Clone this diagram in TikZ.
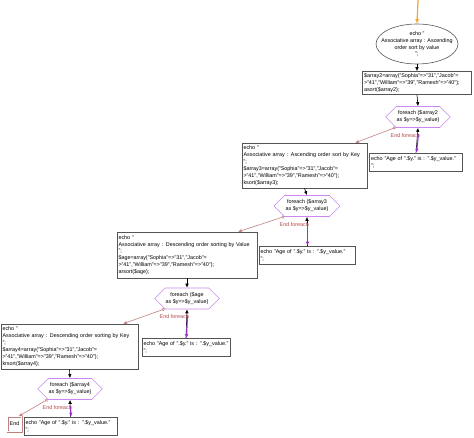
\documentclass[tikz,border=0pt]{standalone}
\usepackage{fontspec}
\setmainfont{Liberation Sans}
\usetikzlibrary{arrows.meta,shapes.geometric,shapes.symbols,calc}
\definecolor{boxline}{HTML}{555555}
\definecolor{hexline}{HTML}{CC88EE}
\definecolor{loopcol}{HTML}{9B30D0}
\definecolor{endcol}{HTML}{C08080}
\definecolor{endtxt}{HTML}{B04848}
\definecolor{startcol}{HTML}{F5A623}
\begin{document}
\begin{tikzpicture}[x=1pt,y=-1pt,
  font=\fontsize{5.4}{6.9}\selectfont,
  cbox/.style={draw=boxline, line width=0.6pt, fill=white, rectangle, inner xsep=1.5pt, inner ysep=1pt, align=left},
  hexa/.style={draw=hexline, line width=0.6pt, fill=white, signal, signal to=east and west, signal pointer angle=90, inner sep=0.5pt, align=center, minimum height=21pt, minimum width=63pt},
  ell/.style={draw=boxline, line width=0.6pt, fill=white, ellipse, inner sep=-12pt, align=center, minimum width=82pt, minimum height=40pt},
  endbox/.style={draw=endcol, line width=0.6pt, double=white, double distance=0.8pt, fill=white, inner sep=0.5pt, minimum width=14pt, minimum height=15pt},
  flow/.style={draw=black, line width=0.6pt, -{Latex[length=4pt,width=3.5pt]}},
  backflow/.style={draw=black, line width=0.6pt, -{Latex[length=4pt,width=3.5pt]}},
  loopflow/.style={draw=loopcol, line width=1.1pt, -{Latex[length=4pt,width=3.5pt]}},
  endflow/.style={draw=endcol, line width=0.6pt, {Circle[open,length=3pt,width=3pt]}-{Stealth[open,length=4pt,width=3.5pt]}},
  endlabel/.style={text=endtxt, anchor=east, inner sep=0pt},
  startflow/.style={draw=startcol, line width=1.2pt, -{Latex[length=4.5pt,width=4pt]}}
]
\useasboundingbox (0,0) rectangle (474,438);

% nodes
\coordinate (start) at (418,0);
\node[ell] (e) at (417,44) {echo "\\Associative array : Ascending\\order sort by value\\";};

\node[cbox, minimum width=109pt, text width=106pt, minimum height=23pt] (b1) at (417,83)
  {\$array2=array("Sophia"=>"31","Jacob"=\\>"41","William"=>"39","Ramesh"=>"40");\\asort(\$array2);};
\node[hexa] (h1) at (418,117) {foreach (\$array2\\as \$y=>\$y\_value)};
\node[cbox, minimum width=93pt, text width=90pt, minimum height=18pt] (c1) at (416,162)
  {echo "Age of ".\$y." is : ".\$y\_value."\\";};

\node[cbox, minimum width=125pt, text width=122pt, minimum height=45pt] (b2) at (304.5,165.5)
  {echo "\\Associative array : Ascending order sort by Key\\";\\\$array3=array("Sophia"=>"31","Jacob"=\\>"41","William"=>"39","Ramesh"=>"40");\\ksort(\$array3);};
\node[hexa, minimum width=66pt] (h2) at (307,206) {foreach (\$array3\\as \$y=>\$y\_value)};
\node[cbox, minimum width=96pt, text width=93pt, minimum height=18pt] (c2) at (307,255)
  {echo "Age of ".\$y." is : ".\$y\_value."\\";};

\node[cbox, minimum width=140pt, text width=137pt, minimum height=46pt] (b3) at (187,255)
  {echo "\\Associative array : Descending order sorting by Value\\";\\\$age=array("Sophia"=>"31","Jacob"=\\>"41","William"=>"39","Ramesh"=>"40");\\arsort(\$age);};
\node[hexa] (h3) at (187,298.5) {foreach (\$age\\as \$y=>\$y\_value)};
\node[cbox, minimum width=88pt, text width=85pt, minimum height=18pt] (c3) at (186,347.5)
  {echo "Age of ".\$y." is : ".\$y\_value."\\";};

\node[cbox, minimum width=137pt, text width=134pt, minimum height=45pt] (b4) at (69.5,346.5)
  {echo "\\Associative array : Descending order sorting by Key\\";\\\$array4=array("Sophia"=>"31","Jacob"=\\>"41","William"=>"39","Ramesh"=>"40");\\krsort(\$array4);};
\node[hexa] (h4) at (70,389) {foreach (\$array4\\as \$y=>\$y\_value)};
\node[cbox, minimum width=93pt, text width=90pt, minimum height=18pt] (c4) at (70.5,426)
  {echo "Age of ".\$y." is : ".\$y\_value."\\";};
\node[endbox] (endn) at (14.5,424) {End};

% connectors
\draw[startflow] (start) -- (e.north);
\draw[flow] (e.south) -- (b1.north);
\draw[flow] (b1.south) -- (h1.north);
\draw[flow] (b2.south) -- (h2.north);
\draw[flow] (b3.south) -- (h3.north);
\draw[flow] (b4.south) -- (h4.north);

\foreach \h/\c in {h1/c1,h2/c2,h3/c3,h4/c4}{
  \draw[backflow] (\c.north) -- (\h.south);
  \draw[loopflow] ($(\h.south)+(0.5,6)$) -- ($(\c.north)+(0.5,0)$);
  \node[endlabel] at ($(\h.south)+(2,7.5)$) {End foreach};
}

\draw[endflow] (h1.205) -- ($(b2.north east)+(-12,0)$);
\draw[endflow] (h2.205) -- ($(b3.north east)+(-19,0)$);
\draw[endflow] (h3.205) -- ($(b4.north east)+(-15,0)$);
\draw[endflow] (h4.205) -- ($(endn.north east)+(-3,0)$);
\end{tikzpicture}
\end{document}
